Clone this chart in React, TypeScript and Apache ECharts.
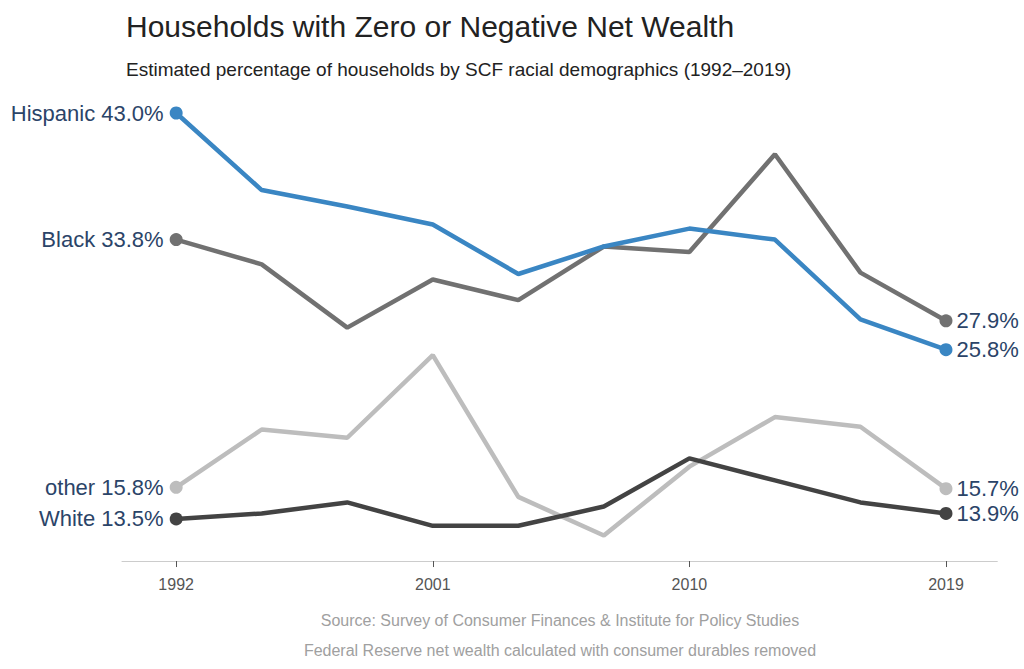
import { useEffect, useRef } from "react";
import * as echarts from "echarts";

const years = [1992, 1995, 1998, 2001, 2004, 2007, 2010, 2013, 2016, 2019];
const tickYears = [1992, 2001, 2010, 2019];

const hispanic = [43.0, 37.4, 36.2, 34.9, 31.3, 33.3, 34.6, 33.8, 28.0, 25.8];
const black = [33.8, 32.0, 27.4, 30.9, 29.4, 33.3, 32.9, 40.0, 31.4, 27.9];
const other = [15.8, 20.0, 19.4, 25.4, 15.1, 12.3, 17.3, 20.9, 20.2, 15.7];
const white = [13.5, 13.9, 14.7, 13.0, 13.0, 14.4, 17.9, 16.3, 14.7, 13.9];

const seriesDefs = [
  { name: "other", values: other, color: "#bdbdbd" },
  { name: "White", values: white, color: "#434343" },
  { name: "Black", values: black, color: "#717171" },
  { name: "Hispanic", values: hispanic, color: "#3a86c3" }
];

const FONT = "Liberation Sans, Arial, Helvetica, sans-serif";
const LABEL_COLOR = "#2b4468";

export default function App() {
  const ref = useRef<HTMLDivElement | null>(null);

  useEffect(() => {
    if (!ref.current) return;
    const chart = echarts.init(ref.current, null, { renderer: "svg" });
    const last = years.length - 1;

    chart.setOption({
      animation: false,
      backgroundColor: "#ffffff",
      textStyle: { fontFamily: FONT },
      graphic: [
        {
          type: "text",
          x: 126,
          y: 26,
          style: {
            text: "Households with Zero or Negative Net Wealth",
            font: `30px ${FONT}`,
            fill: "#222222",
            textVerticalAlign: "middle"
          }
        },
        {
          type: "text",
          x: 126,
          y: 69,
          style: {
            text: "Estimated percentage of households by SCF racial demographics (1992\u20132019)",
            font: `19px ${FONT}`,
            fill: "#222222",
            textVerticalAlign: "middle"
          }
        },
        {
          type: "text",
          x: 560,
          y: 620,
          style: {
            text: "Source: Survey of Consumer Finances & Institute for Policy Studies",
            font: `16px ${FONT}`,
            fill: "#a0a0a0",
            textAlign: "center",
            textVerticalAlign: "middle"
          }
        },
        {
          type: "text",
          x: 560,
          y: 650,
          style: {
            text: "Federal Reserve net wealth calculated with consumer durables removed",
            font: `16px ${FONT}`,
            fill: "#a0a0a0",
            textAlign: "center",
            textVerticalAlign: "middle"
          }
        }
      ],
      grid: { left: 122, right: 26.7, top: 99.24, height: 461.8, containLabel: false },
      xAxis: {
        type: "value",
        min: 1990.1,
        max: 2020.8,
        splitLine: { show: false },
        axisLine: { show: true, lineStyle: { color: "#cccccc", width: 1 } },
        axisTick: {
          show: true,
          customValues: tickYears,
          length: 6,
          lineStyle: { color: "#555555", width: 1 }
        },
        axisLabel: {
          customValues: tickYears,
          color: "#555555",
          fontSize: 16,
          margin: 15,
          fontFamily: FONT,
          formatter: (v: number) => String(v)
        }
      },
      yAxis: {
        type: "value",
        min: 10.44,
        max: 44,
        show: false,
        splitLine: { show: false }
      },
      series: seriesDefs.map((s) => ({
        name: s.name,
        type: "line",
        symbol: "circle",
        symbolSize: (_v: unknown, p: { dataIndex: number }) =>
          p.dataIndex === 0 || p.dataIndex === last ? 13 : 0,
        showAllSymbol: true,
        lineStyle: { width: 4.5, color: s.color },
        itemStyle: { color: s.color },
        emphasis: { disabled: true },
        data: s.values.map((v, i) => ({
          value: [years[i], v],
          label:
            i === 0
              ? {
                  show: true,
                  position: "left",
                  distance: 6,
                  formatter: `${s.name} ${v.toFixed(1)}%`,
                  color: LABEL_COLOR,
                  fontSize: 22,
                  fontFamily: FONT
                }
              : i === last
              ? {
                  show: true,
                  position: "right",
                  distance: 4,
                  formatter: `${v.toFixed(1)}%`,
                  color: LABEL_COLOR,
                  fontSize: 22,
                  fontFamily: FONT
                }
              : { show: false }
        }))
      }))
    });

    return () => {
      chart.dispose();
    };
  }, []);

  return (
    <div
      ref={ref}
      style={{ position: "fixed", left: 0, top: 0, width: 1024, height: 669 }}
    />
  );
}
